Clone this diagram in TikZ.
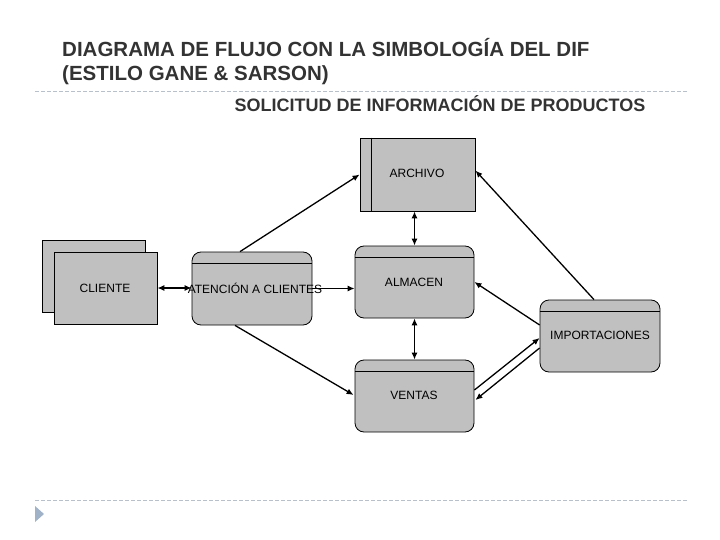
\documentclass[tikz,border=0pt]{standalone}
\usepackage{fontspec}
\setmainfont{Liberation Sans}
\usetikzlibrary{calc,arrows.meta}
\definecolor{boxgray}{HTML}{C0C0C0}
\definecolor{dashgray}{HTML}{B8C0CC}
\definecolor{titlegray}{HTML}{333333}
\definecolor{bullet}{HTML}{9FB2C8}
\tikzset{
  proc/.style={draw,fill=boxgray,rounded corners=9pt,inner sep=0pt,line width=0.8pt},
  ent/.style={draw,fill=boxgray,inner sep=0pt,line width=0.8pt},
  lbl/.style={font=\fontsize{12}{14}\selectfont,inner sep=0pt},
  flow/.style={line width=1.3pt,-{Latex[length=7pt,width=6pt]}},
  bflow/.style={line width=1.3pt,{Latex[length=7pt,width=6pt]}-{Latex[length=7pt,width=6pt]}},
  sep/.style={dashgray,dashed,dash pattern=on 4pt off 2pt,line width=0.6pt}
}
\begin{document}
\begin{tikzpicture}[x=1pt,y=-1pt]
\useasboundingbox (0,0) rectangle (720,540);
% titles
\node[anchor=west,text=titlegray,font=\bfseries\fontsize{20.5}{24}\selectfont,align=left,inner sep=0pt] (title) at (62,62) {DIAGRAMA DE FLUJO CON LA SIMBOLOGÍA DEL DIF\\(ESTILO GANE \& SARSON)};
\draw[sep] (35,91) -- (688,91);
\node[text=titlegray,font=\bfseries\fontsize{18}{21}\selectfont,inner sep=0pt] (sub) at (440,104) {SOLICITUD DE INFORMACIÓN DE PRODUCTOS};
\draw[sep] (35,500) -- (688,500);
\fill[bullet] (35,506) -- (44,514) -- (35,522) -- cycle;
% boxes
\node[ent,minimum width=115pt,minimum height=73pt] (arch) at (417.5,174.5) {};
\draw[line width=0.8pt] ($(arch.north west)+(12,0)$) -- ($(arch.south west)+(12,0)$);
\node[lbl] (archt) at (417,173) {ARCHIVO};
\node[ent,minimum width=103pt,minimum height=72pt] (cliback) at (93.5,276) {};
\node[ent,minimum width=103pt,minimum height=72pt] (cli) at (105.5,288) {};
\node[lbl] (clit) at (105,288) {CLIENTE};
\node[proc,minimum width=120pt,minimum height=73pt] (atn) at (252,288.5) {};
\draw[line width=0.8pt] ($(atn.north west)+(0,12)$) -- ($(atn.north east)+(0,12)$);
\node[lbl] (atnt) at (255,288) {ATENCIÓN A CLIENTES};
\node[proc,minimum width=119pt,minimum height=72pt] (alm) at (414.5,282) {};
\draw[line width=0.8pt] ($(alm.north west)+(0,12)$) -- ($(alm.north east)+(0,12)$);
\node[lbl] (almt) at (414,282) {ALMACEN};
\node[proc,minimum width=120pt,minimum height=72pt] (imp) at (600,336) {};
\draw[line width=0.8pt] ($(imp.north west)+(0,12)$) -- ($(imp.north east)+(0,12)$);
\node[lbl] (impt) at (600,335) {IMPORTACIONES};
\node[proc,minimum width=119pt,minimum height=72pt] (ven) at (414.5,396) {};
\draw[line width=0.8pt] ($(ven.north west)+(0,12)$) -- ($(ven.north east)+(0,12)$);
\node[lbl] (vent) at (414,395) {VENTAS};
% connectors
\draw[bflow] (cli.east) -- (cli.east -| atn.west);
\draw[flow] (atn.east) -- (atn.east -| alm.west);
\draw[flow] ($(atn.north)+(-12,0)$) -- ($(arch.west)+(0,0)$);
\draw[flow] ($(atn.south)+(-17,0)$) -- ($(ven.west)+(-1,-1)$);
\draw[bflow] (arch.south -| alm.north) -- (alm.north);
\draw[bflow] (alm.south) -- (ven.north);
\draw[flow] ($(imp.north)+(-6,0)$) -- ($(arch.east)+(0,-4)$);
\draw[flow] ($(imp.west)+(0,-11)$) -- (alm.east);
\draw[flow] ($(ven.east)+(0,-6)$) -- ($(imp.west)+(0,2)$);
\draw[flow] ($(imp.west)+(0,12)$) -- ($(ven.east)+(1,4)$);
\end{tikzpicture}
\end{document}
